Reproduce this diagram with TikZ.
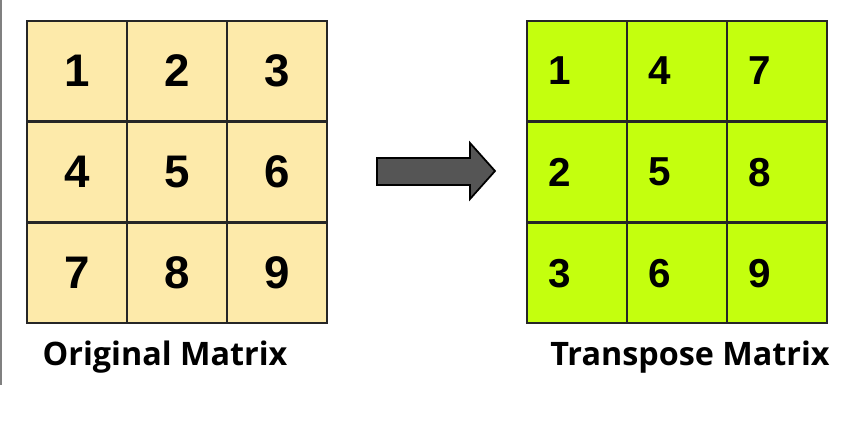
\documentclass[tikz,border=0pt]{standalone}
\usepackage{fontspec}
\setmainfont{Liberation Sans}
\newfontfamily\labelfont{Open Sans}
\usetikzlibrary{positioning}
\definecolor{origfill}{RGB}{253,234,170}
\definecolor{transfill}{RGB}{196,255,14}
\definecolor{arrowgray}{RGB}{85,85,85}
\tikzset{cell/.style={draw=black!85,line width=1pt,minimum size=2cm,inner sep=0pt,font=\fontsize{26}{26}\selectfont\bfseries},
 tcell/.style={cell,font=\fontsize{23}{23}\selectfont\bfseries},
 caption/.style={font=\labelfont\fontsize{18.4}{18.4}\selectfont\bfseries}}

\begin{document}
\begin{tikzpicture}[x=0.02cm,y=-0.02cm]
\useasboundingbox (0,0) rectangle (851,420);
\draw[gray,line width=1pt] (1,0) -- (1,385);

% original matrix, row by row
\foreach \r in {0,1,2}
{
 \foreach \c in {0,1,2}
 {
 \pgfmathtruncatemacro{\v}{3*\r+\c+1}
 \node[cell,fill=origfill] (o\r\c) at (77+100*\c,71+101*\r) {\v};
 }
}

% transpose, column by column
\foreach \r in {0,1,2}
{
 \foreach \c in {0,1,2}
 {
 \pgfmathtruncatemacro{\v}{3*\c+\r+1}
 \node[tcell,fill=transfill,text depth=0pt,align=center] (t\r\c) at (577+100*\c,71+101*\r) {\hspace*{-20pt}\v};
 }
}

\draw[line width=1pt,fill=arrowgray] (377,158) -- (470,158) -- (470,143) -- (495,171)
 -- (470,199) -- (470,185) -- (377,185) -- cycle;

\node[caption] (origlabel) at (165,357) {Original Matrix};
\node[caption] (translabel) at (690,357) {Transpose Matrix};
\end{tikzpicture}
\end{document}
